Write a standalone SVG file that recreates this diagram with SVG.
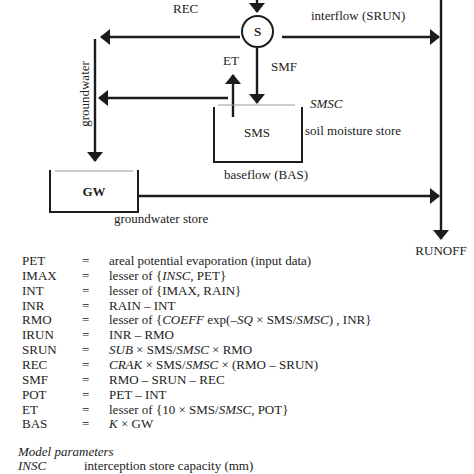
<svg xmlns="http://www.w3.org/2000/svg" width="474" height="474" viewBox="0 0 474 474">
<style>
text{font-family:"Liberation Serif","Times New Roman",serif;font-size:13px;fill:#222}
.b{font-weight:bold}
.i{font-style:italic}
.ln{stroke:#1c1c1c;stroke-width:2.4;fill:none}
.box{stroke:#1c1c1c;stroke-width:2;fill:none}
.lvl{stroke:#9a9a9a;stroke-width:1;fill:none}
</style>
<defs>
<marker id="ah" viewBox="0 0 10 16" refX="9" refY="8" markerWidth="10" markerHeight="16" markerUnits="userSpaceOnUse" orient="auto">
<path d="M0,0 L10,8 L0,16 z" fill="#1c1c1c"/>
</marker>
</defs>
<rect width="474" height="474" fill="#fff"/>
<g id="connectors">
<line class="ln" x1="257" y1="0" x2="257" y2="12" marker-end="url(#ah)"/>
<line class="ln" x1="240" y1="37" x2="101" y2="37" marker-end="url(#ah)"/>
<line class="ln" x1="282" y1="37" x2="439" y2="37" marker-end="url(#ah)"/>
<line class="ln" x1="441" y1="0" x2="441" y2="239" marker-end="url(#ah)"/>
<line class="ln" x1="95" y1="39" x2="95" y2="161" marker-end="url(#ah)"/>
<line class="ln" x1="228" y1="98" x2="99" y2="98" marker-end="url(#ah)"/>
<line class="ln" x1="233" y1="117" x2="233" y2="75" marker-end="url(#ah)"/>
<line class="ln" x1="257" y1="48" x2="257" y2="103" marker-end="url(#ah)"/>
<line class="ln" x1="138" y1="196" x2="439" y2="196" marker-end="url(#ah)"/>
<text x="173" y="13">REC</text>
<text x="311" y="20">interflow (SRUN)</text>
<text x="223" y="65">ET</text>
<text x="271" y="71">SMF</text>
<text transform="translate(89,94) rotate(-90)" text-anchor="middle">groundwater</text>
<text x="224" y="179">baseflow (BAS)</text>
<text x="441" y="255" text-anchor="middle">RUNOFF</text>
</g>
<g id="S">
<circle cx="257.5" cy="31.5" r="15.5" fill="#fff" stroke="#1c1c1c" stroke-width="2"/>
<text class="b" x="257.5" y="36" text-anchor="middle">S</text>
</g>
<g id="SMS">
<path class="box" d="M214,107 V162 H302 V107"/>
<line class="lvl" x1="218" y1="105" x2="295" y2="105"/>
<text x="257" y="137" text-anchor="middle">SMS</text>
<text class="i" x="310" y="108">SMSC</text>
<text x="305" y="135">soil moisture store</text>
</g>
<g id="GW">
<path class="box" d="M50,170 V212 H138 V170"/>
<line class="lvl" x1="55" y1="171" x2="133" y2="171"/>
<text class="b" x="94" y="196" text-anchor="middle">GW</text>
<text x="114" y="223">groundwater store</text>
</g>
<g id="equations">
<text x="22" y="265">PET</text><text x="82" y="265">=</text><text x="109" y="265">areal potential evaporation (input data)</text>
<text x="22" y="280">IMAX</text><text x="82" y="280">=</text><text x="109" y="280">lesser of {<tspan class="i">INSC</tspan>, PET}</text>
<text x="22" y="294.7">INT</text><text x="82" y="294.7">=</text><text x="109" y="294.7">lesser of {IMAX, RAIN}</text>
<text x="22" y="309.6">INR</text><text x="82" y="309.6">=</text><text x="109" y="309.6">RAIN – INT</text>
<text x="22" y="324.4">RMO</text><text x="82" y="324.4">=</text><text x="109" y="324.4">lesser of {<tspan class="i">COEFF</tspan> exp(–<tspan class="i">SQ</tspan> × SMS/<tspan class="i">SMSC</tspan>) , INR}</text>
<text x="22" y="339.3">IRUN</text><text x="82" y="339.3">=</text><text x="109" y="339.3">INR – RMO</text>
<text x="22" y="354.1">SRUN</text><text x="82" y="354.1">=</text><text x="109" y="354.1"><tspan class="i">SUB</tspan> × SMS/<tspan class="i">SMSC</tspan> × RMO</text>
<text x="22" y="369">REC</text><text x="82" y="369">=</text><text x="109" y="369"><tspan class="i">CRAK</tspan> × SMS/<tspan class="i">SMSC</tspan> × (RMO – SRUN)</text>
<text x="22" y="383.8">SMF</text><text x="82" y="383.8">=</text><text x="109" y="383.8">RMO – SRUN – REC</text>
<text x="22" y="398.7">POT</text><text x="82" y="398.7">=</text><text x="109" y="398.7">PET – INT</text>
<text x="22" y="413.5">ET</text><text x="82" y="413.5">=</text><text x="109" y="413.5">lesser of {10 × SMS/<tspan class="i">SMSC</tspan>, POT}</text>
<text x="22" y="428.4">BAS</text><text x="82" y="428.4">=</text><text x="109" y="428.4"><tspan class="i">K</tspan> × GW</text>
<text class="i" x="18" y="456">Model parameters</text>
<text class="i" x="18" y="470">INSC</text><text x="84" y="470">interception store capacity (mm)</text>
</g>
</svg>
